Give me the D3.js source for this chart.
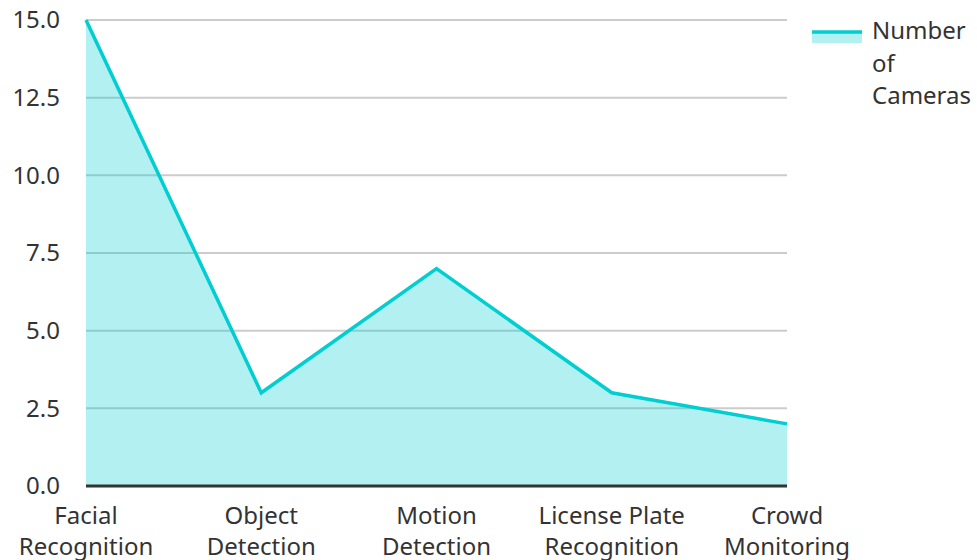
<!DOCTYPE html>
<html>
<head>
<meta charset="utf-8">
<script src="https://cdn.jsdelivr.net/npm/d3@7"></script>
<style>
  body { margin: 0; background: #fff; }
  svg text { font-family: "Noto Sans", "Open Sans", sans-serif; fill: #333; }
</style>
</head>
<body>
<svg id="chart" width="977" height="560"></svg>
<script>
// data
var categories = ["Facial Recognition", "Object Detection", "Motion Detection", "License Plate Recognition", "Crowd Monitoring"];
var catLines = [["Facial", "Recognition"], ["Object", "Detection"], ["Motion", "Detection"], ["License Plate", "Recognition"], ["Crowd", "Monitoring"]];
var cameras = [15, 3, 7, 3, 2];
var yTicks = [0, 2.5, 5, 7.5, 10, 12.5, 15];
var seriesName = ["Number", "of", "Cameras"];

var svg = d3.select("#chart");
var margin = {left: 86, right: 190, top: 20, bottom: 74};
var W = 977, H = 560;
var color = "#00ced1";
var fs = "24px";

var x = d3.scalePoint().domain(categories).range([margin.left, W - margin.right]);
var y = d3.scaleLinear().domain([0, 15]).range([H - margin.bottom, margin.top]);

// gridlines
svg.append("g").selectAll("line").data(yTicks.filter(function(d){ return d > 0; }))
  .enter().append("line")
  .attr("x1", margin.left).attr("x2", W - margin.right)
  .attr("y1", function(d){ return y(d); }).attr("y2", function(d){ return y(d); })
  .attr("stroke", "#cccccc").attr("stroke-width", 2);

var pts = categories.map(function(c, i){ return [x(c), y(cameras[i])]; });

var area = d3.area().x(function(d){ return d[0]; }).y0(y(0)).y1(function(d){ return d[1]; });
svg.append("path").datum(pts).attr("d", area)
  .attr("fill", color).attr("fill-opacity", 0.3);

var line = d3.line().x(function(d){ return d[0]; }).y(function(d){ return d[1]; });
svg.append("path").datum(pts).attr("d", line)
  .attr("fill", "none").attr("stroke", color).attr("stroke-width", 3.5);

// x baseline
svg.append("line")
  .attr("x1", margin.left).attr("x2", W - margin.right)
  .attr("y1", y(0)).attr("y2", y(0))
  .attr("stroke", "#333").attr("stroke-width", 3);

// y tick labels
svg.append("g").selectAll("text").data(yTicks).enter().append("text")
  .attr("x", 60).attr("y", function(d){ return y(d); })
  .attr("dy", "0.35em").attr("text-anchor", "end")
  .style("font-size", fs)
  .text(function(d){ return d3.format(".1f")(d); });

// x labels
var xl = svg.append("g").selectAll("text").data(categories).enter().append("text")
  .attr("text-anchor", "middle")
  .attr("transform", function(d){ return "translate(" + x(d) + ",524)"; })
  .style("font-size", fs);
xl.selectAll("tspan").data(function(d, i){ return catLines[i]; }).enter().append("tspan")
  .attr("x", 0).attr("y", function(d, i){ return i * 31; })
  .text(function(d){ return d; });

// legend
var lg = svg.append("g").attr("transform", "translate(812,31)");
lg.append("rect").attr("x", 0).attr("y", 0).attr("width", 50).attr("height", 12)
  .attr("fill", color).attr("fill-opacity", 0.3);
lg.append("line").attr("x1", 0).attr("x2", 50).attr("y1", 1).attr("y2", 1)
  .attr("stroke", color).attr("stroke-width", 3.5);
lg.append("text").style("font-size", fs).selectAll("tspan").data(seriesName).enter().append("tspan")
  .attr("x", 60).attr("y", function(d, i){ return 8 + i * 32.5; })
  .text(function(d){ return d; });
</script>
</body>
</html>
